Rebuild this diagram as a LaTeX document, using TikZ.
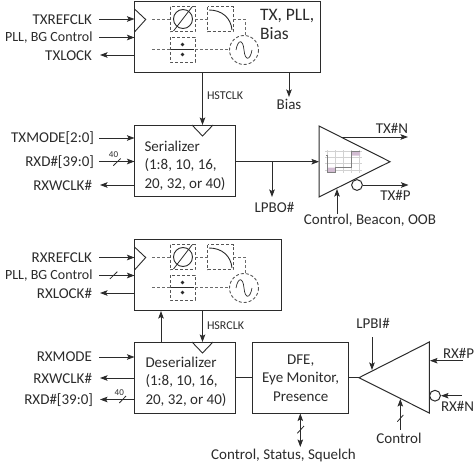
\documentclass[tikz,border=0pt]{standalone}
\usepackage{fontspec}
\setmainfont{Carlito}
\usetikzlibrary{arrows.meta}
\definecolor{ink}{HTML}{2B2B2B}
\tikzset{
  x=1pt,y=-1pt,
  every node/.style={inner sep=0pt,outer sep=0pt,text=ink},
  block/.style={draw=ink,line width=1pt,anchor=north west,inner sep=0pt},
  conn/.style={draw=ink,line width=0.8pt,-{Stealth[length=7.5pt,width=5.5pt,inset=1.5pt]}},
  both/.style={draw=ink,line width=0.8pt,{Stealth[length=7.5pt,width=5.5pt,inset=1.5pt]}-{Stealth[length=7.5pt,width=5.5pt,inset=1.5pt]}},
  plain/.style={draw=ink,line width=0.8pt},
  dbox/.style={draw=ink!80,line width=0.6pt,densely dashed},
  dlink/.style={draw=ink!70,line width=0.5pt,densely dashed},
  lab/.style={font=\fontsize{15}{17}\selectfont,anchor=east},
  labn/.style={font=\fontsize{14}{17}\selectfont,anchor=east},
  sm/.style={font=\fontsize{12}{14}\selectfont},
  tiny40/.style={font=\fontsize{9}{10}\selectfont},
  body/.style={font=\fontsize{15}{18.5}\selectfont},
  pllpic/.pic={
    \draw[dbox] (170,6.5) rectangle (195,31.5);
    \draw[draw=ink,line width=0.9pt] (183,19) circle (9.5);
    \draw[draw=ink,line width=0.8pt] (173.5,31) -- (192,7);
    \draw[dbox] (207.5,6.5) rectangle (233,31.5);
    \draw[draw=ink,line width=0.9pt] (209,10) .. controls (222,10) and (231,18) .. (232,30);
    \draw[dbox] (170,37) rectangle (195,62);
    \draw[draw=ink,line width=1pt] (171,49.5) -- (194,49.5);
    \fill[ink] (182.5,44.5) circle (1.9) (182.5,54.5) circle (1.9);
    \draw[dbox,line width=0.9pt] (244,50) circle (14.5);
    \draw[draw=ink,line width=0.7pt] (236,50) .. controls (238,39) and (243,39) .. (244,50) .. controls (245,61) and (250,61) .. (252,50);
    \draw[dlink] (152,19) -- (170,19) (195,19) -- (207.5,19) (233,19) -- (245,19) -- (245,35.5);
    \draw[dlink] (152,49.5) -- (170,49.5) (195,49.5) -- (229.5,49.5);
    \draw[draw=ink,line width=0.9pt] (134.5,9) -- (145.7,19.5) -- (134.5,32);
  }
}
\begin{document}
\begin{tikzpicture}
\useasboundingbox (0,0) rectangle (474,463);
% blocks
\node[block,minimum width=185.5pt,minimum height=71pt] (tx) at (134.5,1.5) {};
\node[block,minimum width=101pt,minimum height=71.5pt] (ser) at (134.5,125) {};
\node[block,minimum width=147pt,minimum height=71pt] (rx) at (134.5,239.5) {};
\node[block,minimum width=101pt,minimum height=71pt] (des) at (134.5,342) {};
\node[block,minimum width=96pt,minimum height=71pt] (dfe) at (252.7,342) {};
\pic at (0,0) {pllpic};
\pic at (0,238) {pllpic};
% triangles
\coordinate (ta) at (319,126); \coordinate (tb) at (319,197); \coordinate (tc) at (390,161.7);
\draw[draw=ink,line width=1pt] (ta) -- (tc) -- (tb) -- cycle;
\coordinate (ra) at (429.3,342); \coordinate (rb) at (429.3,413); \coordinate (rc) at (359,377.7);
\draw[draw=ink,line width=1pt] (ra) -- (rc) -- (rb) -- cycle;
% waveform
\draw[draw=gray!35,line width=0.4pt] (325,150.7) -- (361.7,150.7) (325,157) -- (361.7,157) (325,163.5) -- (361.7,163.5) (325,170) -- (361.7,170)
 (327,150) -- (327,173) (335,150) -- (335,173) (343,150) -- (343,173) (351,150) -- (351,173) (359,150) -- (359,173);
\fill[gray!50!violet!35] (327.5,167.5) rectangle (335.7,172.3) (351.7,151.7) rectangle (360,155.7);
\draw[draw=ink!60,line width=0.7pt] (326,155) -- (327.5,155) -- (327.5,172.3) -- (335.7,172.3) -- (335.7,167.3) -- (351.7,167.3) -- (351.7,151.7) -- (360,151.7);
% serializer clock marks
\draw[draw=ink,line width=0.9pt] (192,125) -- (202.5,136) -- (213,125);
\draw[draw=ink,line width=0.9pt] (192,342) -- (202.5,353) -- (213,342);
% labels
\node[lab] (l1) at (92,20) {TXREFCLK};
\node[labn] (l2) at (92.5,38) {PLL, BG Control};
\node[lab] (l3) at (92,56) {TXLOCK};
\node[lab] (l4) at (94,138.5) {TXMODE[2:0]};
\node[lab] (l5) at (94,162) {RXD\#[39:0]};
\node[lab] (l6) at (92,185) {RXWCLK\#};
\node[lab] (l7) at (92,258) {RXREFCLK};
\node[labn] (l8) at (92.5,276) {PLL, BG Control};
\node[lab] (l9) at (92,293.5) {RXLOCK\#};
\node[lab] (l10) at (92,356.5) {RXMODE};
\node[lab] (l11) at (92,378.5) {RXWCLK\#};
\node[lab] (l12) at (93,400) {RXD\#[39:0]};
% left connectors
\foreach \y/\n in {19/a,37.5/b,138/d,257.5/g,275.5/h,357/k}{
  \coordinate (s\n) at (99,\y); \coordinate (e\n) at (134.5,\y);
  \draw[conn] (s\n) -- (e\n);
}
\coordinate (sc) at (134.5,55); \coordinate (ec) at (100,55); \draw[conn] (sc) -- (ec);
\coordinate (sf) at (134.5,185); \coordinate (ef) at (100,185); \draw[conn] (sf) -- (ef);
\coordinate (si) at (134.5,293) ; \coordinate (ei) at (100,293); \draw[conn] (si) -- (ei);
\coordinate (sl) at (134.5,378); \coordinate (el) at (100,378); \draw[conn] (sl) -- (el);
\coordinate (sm1) at (134.5,399.5); \coordinate (em1) at (100,399.5); \draw[conn] (sm1) -- (em1);
\coordinate (se) at (99,161.5); \coordinate (ee) at (134.5,161.5); \draw[conn] (se) -- (ee);
% bus slashes
\draw[plain] (113.3,165.7) -- (120.7,158.5);
\draw[plain] (110,278.8) -- (117.3,271.7);
\draw[plain] (119.3,403) -- (126,396);
\node[tiny40] (n40a) at (113.5,155) {40};
\node[tiny40] (n40b) at (119.3,393) {40};
% vertical connectors
\coordinate (hst) at (202.5,72.5); \coordinate (hste) at (202.5,125); \draw[conn] (hst) -- (hste);
\node[sm,anchor=west] (lhst) at (207,95.5) {HSTCLK};
\coordinate (bs) at (289,72.5); \coordinate (be) at (289,97); \draw[conn] (bs) -- (be);
\node[lab,anchor=center] (lbias) at (289,104.5) {Bias};
\node[anchor=north west,align=left,font=\fontsize{17.5}{18.5}\selectfont] (ltx) at (260,9.5) {TX, PLL,\\Bias};
\node[body,anchor=north west,align=left] (lser) at (144.5,141) {Serializer\\(1:8, 10, 16,\\20, 32, or 40)};
\node[body,anchor=north west,align=left] (ldes) at (145.5,357) {Deserializer\\(1:8, 10, 16,\\20, 32, or 40)};
\node[body,align=center] (ldfe) at (300.7,378) {DFE,\\Eye Monitor,\\Presence};
% serializer out
\coordinate (so) at (235.5,161.7); \coordinate (si2) at (319,161.7); \draw[conn] (so) -- (si2);
\coordinate (lp) at (272,161.7); \coordinate (lpe) at (272,197); \draw[conn] (lp) -- (lpe);
\node[lab,anchor=center] (llp) at (274.5,207) {LPBO\#};
% tx out
\coordinate (tns) at (341,137); \coordinate (tne) at (408,137); \draw[conn] (tns) -- (tne);
\node[lab,anchor=center] (ltn) at (392,128) {TX\#N};
\draw[draw=ink,line width=1pt] (357,185) circle (5.4);
\coordinate (bub) at (362.5,185); \coordinate (tpe) at (408.5,185); \draw[conn] (bub) -- (tpe);
\node[lab,anchor=center] (ltp) at (395.5,195) {TX\#P};
\coordinate (cbs) at (337,214); \coordinate (cbe) at (337,189); \draw[conn] (cbs) -- (cbe);
\node[lab,anchor=center] (lcb) at (370,220) {Control, Beacon, OOB};
% rx block links
\coordinate (hss) at (202.5,311); \coordinate (hse) at (202.5,342); \draw[conn] (hss) -- (hse);
\node[sm,anchor=west] (lhs) at (207,326) {HSRCLK};
\coordinate (ups) at (161,342); \coordinate (upe) at (161,311); \draw[conn] (ups) -- (upe);
% des - dfe - rx
\draw[plain] (235.5,377.7) -- (252.7,377.7);
\draw[plain] (348.7,377.7) -- (359,377.7);
\coordinate (lbs) at (372,337); \coordinate (lbe) at (372,370); \draw[conn] (lbs) -- (lbe);
\node[lab,anchor=center] (llb) at (373,323) {LPBI\#};
\coordinate (rps) at (463,360.7); \coordinate (rpe) at (430,360.7); \draw[conn] (rps) -- (rpe);
\node[lab,anchor=west] (lrp) at (443,353) {RX\#P};
\draw[draw=ink,line width=1pt] (435,395.7) circle (5.4);
\coordinate (rns) at (462,395.7); \coordinate (rne) at (441,395.7); \draw[conn] (rns) -- (rne);
\node[lab,anchor=west] (lrn) at (441,406.5) {RX\#N};
\coordinate (cs) at (400.3,429.5); \coordinate (ce) at (400.3,399); \draw[conn] (cs) -- (ce);
\draw[plain] (397.3,421.7) -- (403.3,415);
\node[lab,anchor=center] (lc) at (399,438) {Control};
\coordinate (st) at (300.3,413.5); \coordinate (stb) at (300.3,447); \draw[both] (st) -- (stb);
\draw[plain] (297.3,433.3) -- (304,426);
\node[lab,anchor=center] (lst) at (283.5,455) {Control, Status, Squelch};
\end{tikzpicture}
\end{document}
